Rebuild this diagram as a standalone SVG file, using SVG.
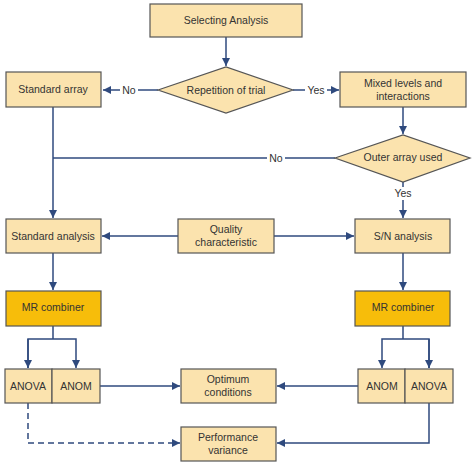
<svg xmlns="http://www.w3.org/2000/svg" width="474" height="462" viewBox="0 0 474 462">
<defs>
<style>
.box{fill:#FBE3AE;stroke:#555;stroke-width:1.2}
.mr{fill:#F7BD0A;stroke:#555;stroke-width:1.2}
.t{font-family:"Liberation Sans",Arial,sans-serif;font-size:10.5px;fill:#333;text-anchor:middle}
.c{fill:none;stroke:#2F4A7E;stroke-width:1.5}
.d{stroke-dasharray:6,4}
</style>
<marker id="ah" markerWidth="8" markerHeight="8" viewBox="0 0 8 8" refX="8" refY="4" orient="auto" markerUnits="userSpaceOnUse">
<path d="M0,0 L8,4 L0,8 Z" fill="#2F4A7E"/>
</marker>
</defs>
<rect width="474" height="462" fill="#fff"/>
<g id="connectors">
<path class="c" d="M226,37 V66" marker-end="url(#ah)"/>
<path class="c" d="M158,90 H103" marker-end="url(#ah)"/>
<path class="c" d="M293,90 H339" marker-end="url(#ah)"/>
<path class="c" d="M403,107 V134" marker-end="url(#ah)"/>
<path class="c" d="M335,158 H53"/>
<path class="c" d="M53,107 V218" marker-end="url(#ah)"/>
<path class="c" d="M403,182 V187 M403,200 V218" marker-end="url(#ah)"/>
<path class="c" d="M178,236 H102" marker-end="url(#ah)"/>
<path class="c" d="M274,236 H354" marker-end="url(#ah)"/>
<path class="c" d="M53,253 V290" marker-end="url(#ah)"/>
<path class="c" d="M403,253 V290" marker-end="url(#ah)"/>
<path class="c" d="M53,326 V339 M28,368 V339 H76 V368" marker-end="url(#ah)"/>
<path class="c" d="M28,339 V368" marker-end="url(#ah)"/>
<path class="c" d="M403,326 V339 M429,368 V339 H382 V368" marker-end="url(#ah)"/>
<path class="c" d="M429,339 V368" marker-end="url(#ah)"/>
<path class="c" d="M100,386 H180" marker-end="url(#ah)"/>
<path class="c" d="M358,386 H277" marker-end="url(#ah)"/>
<path class="c d" d="M28,403 V443 H180" marker-end="url(#ah)"/>
<path class="c" d="M429,403 V443 H277" marker-end="url(#ah)"/>
<rect x="120" y="84" width="18" height="12" fill="#fff"/>
<text class="t" x="129" y="94">No</text>
<rect x="305" y="84" width="22" height="12" fill="#fff"/>
<text class="t" x="316" y="94">Yes</text>
<rect x="267" y="152" width="18" height="12" fill="#fff"/>
<text class="t" x="276" y="162">No</text>
<text class="t" x="403" y="197">Yes</text>
</g>
<g id="selecting"><rect class="box" x="150" y="4" width="152" height="33"/><text class="t" x="226" y="24">Selecting Analysis</text></g>
<g id="repetition"><path class="box" d="M158,90 L226,67 L293,90 L226,113 Z"/><text class="t" x="226" y="94">Repetition of trial</text></g>
<g id="standard-array"><rect class="box" x="6" y="72" width="95" height="35"/><text class="t" x="53" y="93">Standard array</text></g>
<g id="mixed"><rect class="box" x="340" y="72" width="126" height="35"/><text class="t" x="403" y="87">Mixed levels and</text><text class="t" x="403" y="100">interactions</text></g>
<g id="outer"><path class="box" d="M335,158 L403,135 L470,158 L403,182 Z"/><text class="t" x="403" y="161">Outer array used</text></g>
<g id="standard-analysis"><rect class="box" x="6" y="219" width="95" height="34"/><text class="t" x="53" y="240">Standard analysis</text></g>
<g id="quality"><rect class="box" x="178" y="219" width="96" height="34"/><text class="t" x="226" y="233">Quality</text><text class="t" x="226" y="246">characteristic</text></g>
<g id="sn"><rect class="box" x="355" y="219" width="95" height="34"/><text class="t" x="403" y="240">S/N analysis</text></g>
<g id="mr-left"><rect class="mr" x="6" y="291" width="95" height="35"/><text class="t" x="53" y="311">MR combiner</text></g>
<g id="mr-right"><rect class="mr" x="355" y="291" width="95" height="35"/><text class="t" x="403" y="311">MR combiner</text></g>
<g id="anova-left"><rect class="box" x="5" y="369" width="47" height="34"/><text class="t" x="28" y="390">ANOVA</text></g>
<g id="anom-left"><rect class="box" x="52" y="369" width="48" height="34"/><text class="t" x="76" y="390">ANOM</text></g>
<g id="optimum"><rect class="box" x="181" y="369" width="95" height="34"/><text class="t" x="228" y="383">Optimum</text><text class="t" x="228" y="396">conditions</text></g>
<g id="anom-right"><rect class="box" x="358" y="369" width="47" height="34"/><text class="t" x="382" y="390">ANOM</text></g>
<g id="anova-right"><rect class="box" x="405" y="369" width="48" height="34"/><text class="t" x="429" y="390">ANOVA</text></g>
<g id="performance"><rect class="box" x="181" y="427" width="95" height="34"/><text class="t" x="228" y="441">Performance</text><text class="t" x="228" y="454">variance</text></g>
</svg>
